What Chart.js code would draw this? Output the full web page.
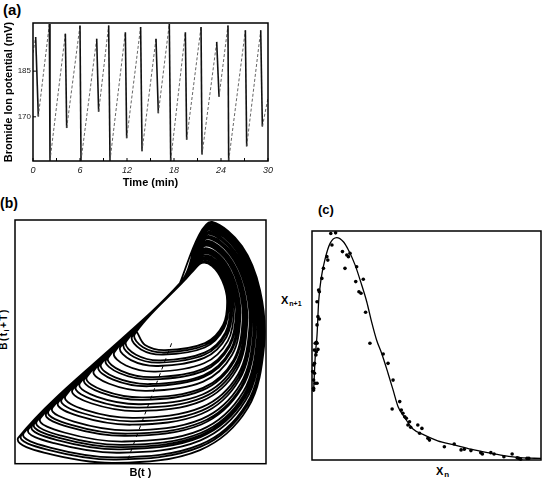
<!DOCTYPE html>
<html lang="en">
<head>
<meta charset="UTF-8">
<title>Bromide oscillations, attractor and return map</title>
<script src="https://cdn.jsdelivr.net/npm/chart.js"></script>
<style>
  body { margin: 0; width: 545px; height: 484px; background: #fff; position: relative; overflow: hidden;
         font-family: 'Liberation Sans', Arial, sans-serif; color: #000; }
  canvas { position: absolute; }
  .lbl { position: absolute; font-weight: bold; line-height: 1; white-space: nowrap; }
  .sub { position: relative; top: 2px; margin-left: 1px; }
</style>
</head>
<body>
<div class="lbl" style="left:3px;top:2px;font-size:15px">(a)</div>
<div class="lbl" style="left:0px;top:196px;font-size:14px">(b)</div>
<div class="lbl" style="left:318px;top:203px;font-size:13px">(c)</div>
<div class="lbl" style="left:-26px;top:324px;width:60px;height:10px;font-size:10px;text-align:center;letter-spacing:1.5px;transform:rotate(-90deg)">B(t<span class="sub" style="font-size:7px;margin-left:0">i</span>+T)</div>
<div class="lbl" style="left:281px;top:295px;font-size:11px">X<span class="sub" style="font-size:7px">n+1</span></div>
<div class="lbl" style="left:436px;top:466px;font-size:11px">X<span class="sub" style="font-size:8px">n</span></div>

<canvas id="chartA" width="280" height="200" style="left:0;top:0"></canvas>
<canvas id="chartB" width="280" height="289" style="left:0;top:195px"></canvas>
<canvas id="chartC" width="270" height="289" style="left:275px;top:195px"></canvas>

<script>
// (a) bromide ion potential vs time: peaks and troughs
const times = [0, 0.34, 0.68, 2.09, 2.17, 4.13, 4.30, 6.0, 6.13, 8.13, 8.38, 9.66, 9.83, 11.79, 11.96,
               13.74, 13.92, 15.70, 16.0, 17.40, 17.58, 19.45, 19.62, 21.45, 21.58, 23.45, 23.75,
               24.89, 24.98, 27.11, 27.28, 29.07, 29.28, 30];
const potential = [191, 196.2, 170.1, 200.5, 155.6, 197.3, 166.3, 200.0, 155.6, 195.6, 171.7, 200.0, 155.6,
                   197.8, 163.0, 199.5, 158.7, 195.6, 171.2, 200.5, 155.6, 197.8, 162.5, 199.5, 157.6,
                   194.6, 176.6, 200.0, 155.6, 198.4, 160.3, 198.4, 166.8, 176.1];
const timeTicks = [0, 6, 12, 18, 24, 30];
const timeMinorTicks = [0, 3, 6, 9, 12, 15, 18, 21, 24, 27, 30];
const potentialTicks = [170, 185];

// (b) delay-embedded attractor: one row per loop
// (diagonal start, bottom arc, right side, top, shoulder, back on the diagonal)
const loopX = [
  [48.6, 51.8, 59.8, 75.7, 82.9, 84.5, 82.5, 78.5, 74.5, 70.9, 67.7],
  [47.7, 51.0, 59.4, 75.7, 83.1, 84.8, 82.8, 78.7, 74.6, 71.0, 67.7],
  [46.7, 50.2, 59.0, 75.6, 83.3, 85.1, 83.1, 79.0, 74.7, 71.0, 67.6],
  [44.3, 48.2, 58.0, 75.5, 83.8, 85.8, 83.9, 79.6, 74.9, 71.1, 67.5],
  [43.4, 47.4, 57.6, 75.5, 84.0, 86.1, 84.2, 79.8, 74.9, 71.2, 67.5],
  [42.0, 46.2, 57.0, 75.4, 84.3, 86.6, 84.6, 80.2, 75.1, 71.2, 67.4],
  [39.6, 44.2, 56.0, 75.3, 84.8, 87.3, 85.4, 80.8, 75.3, 71.4, 67.3],
  [37.2, 42.3, 55.0, 75.2, 85.3, 88.1, 86.1, 81.4, 75.5, 71.5, 67.2],
  [36.3, 41.5, 54.6, 75.2, 85.5, 88.4, 86.4, 81.6, 75.5, 71.5, 67.2],
  [34.4, 39.9, 53.8, 75.1, 85.9, 88.9, 87.0, 82.1, 75.7, 71.6, 67.1],
  [33.4, 39.1, 53.4, 75.1, 86.1, 89.2, 87.3, 82.3, 75.8, 71.7, 67.1],
  [31.5, 37.5, 52.6, 75.0, 86.5, 89.8, 87.9, 82.8, 75.9, 71.8, 67.0],
  [28.7, 35.1, 51.4, 74.9, 87.1, 90.7, 88.8, 83.5, 76.2, 71.9, 66.9],
  [27.7, 34.3, 51.0, 74.8, 87.3, 91.0, 89.1, 83.7, 76.3, 72.0, 66.8],
  [25.9, 32.7, 50.2, 74.7, 87.7, 91.6, 89.8, 84.2, 76.4, 72.1, 66.7],
  [24.4, 31.5, 49.6, 74.7, 88.0, 92.1, 90.2, 84.6, 76.5, 72.1, 66.7],
  [23.0, 30.3, 49.0, 74.6, 88.3, 92.5, 90.7, 84.9, 76.7, 72.2, 66.6],
  [20.2, 27.9, 47.8, 74.5, 88.8, 93.4, 91.6, 85.6, 76.9, 72.3, 66.5],
  [18.7, 26.7, 47.2, 74.4, 89.1, 93.8, 92.0, 86.0, 77.0, 72.4, 66.4],
  [17.3, 25.5, 46.6, 74.4, 89.4, 94.3, 92.5, 86.4, 77.1, 72.5, 66.4],
  [15.0, 23.5, 45.6, 74.3, 89.9, 95.0, 93.2, 87.0, 77.3, 72.6, 66.3],
  [13.5, 22.4, 45.0, 74.2, 90.2, 95.5, 93.7, 87.3, 77.5, 72.7, 66.2],
  [12.6, 21.6, 44.6, 74.2, 90.4, 95.8, 94.0, 87.5, 77.5, 72.7, 66.2],
  [10.2, 19.6, 43.6, 74.1, 90.9, 96.5, 94.7, 88.1, 77.7, 72.8, 66.1],
  [8.8, 18.4, 43.0, 74.0, 91.2, 96.9, 95.2, 88.5, 77.9, 72.9, 66.0],
  [7.8, 17.6, 42.6, 74.0, 91.4, 97.2, 95.5, 88.7, 77.9, 72.9, 66.0],
  [6.9, 16.8, 42.2, 73.9, 91.6, 97.5, 95.8, 89.0, 78.0, 73.0, 65.9],
  [5.5, 15.6, 41.6, 73.9, 91.9, 98.0, 96.2, 89.3, 78.1, 73.1, 65.9],
  [3.6, 14.0, 40.8, 73.8, 92.3, 98.6, 96.9, 89.8, 78.3, 73.2, 65.8],
  [2.6, 13.2, 40.4, 73.8, 92.5, 98.9, 97.2, 90.0, 78.4, 73.2, 65.8],
  [1.2, 12.0, 39.8, 73.7, 92.8, 99.3, 97.6, 90.4, 78.5, 73.3, 65.7]
];
const loopY = [
  [54.0, 48.7, 46.6, 49.5, 56.9, 67.1, 75.3, 81.1, 82.4, 79.0, 75.4],
  [53.1, 47.8, 45.7, 48.6, 56.2, 66.7, 75.2, 81.3, 82.7, 79.3, 75.4],
  [52.3, 46.9, 44.8, 47.7, 55.5, 66.4, 75.1, 81.4, 83.1, 79.6, 75.3],
  [50.1, 44.7, 42.4, 45.6, 53.8, 65.4, 74.9, 81.8, 83.9, 80.3, 75.3],
  [49.2, 43.8, 41.5, 44.7, 53.2, 65.1, 74.9, 82.0, 84.3, 80.6, 75.3],
  [47.9, 42.5, 40.1, 43.4, 52.1, 64.5, 74.7, 82.3, 84.8, 81.1, 75.2],
  [45.7, 40.3, 37.8, 41.2, 50.4, 63.6, 74.5, 82.7, 85.6, 81.8, 75.2],
  [43.6, 38.1, 35.5, 39.0, 48.7, 62.7, 74.3, 83.1, 86.4, 82.6, 75.1],
  [42.7, 37.2, 34.6, 38.1, 48.1, 62.3, 74.3, 83.2, 86.8, 82.8, 75.1],
  [41.0, 35.4, 32.7, 36.3, 46.7, 61.6, 74.1, 83.6, 87.4, 83.4, 75.0],
  [40.1, 34.5, 31.8, 35.5, 46.0, 61.2, 74.0, 83.7, 87.8, 83.7, 75.0],
  [38.3, 32.8, 29.9, 33.7, 44.7, 60.5, 73.9, 84.1, 88.5, 84.3, 74.9],
  [35.7, 30.1, 27.2, 31.1, 42.6, 59.4, 73.6, 84.5, 89.5, 85.2, 74.9],
  [34.9, 29.2, 26.2, 30.2, 41.9, 59.0, 73.5, 84.7, 89.8, 85.5, 74.8],
  [33.1, 27.4, 24.4, 28.4, 40.6, 58.3, 73.4, 85.0, 90.5, 86.1, 74.8],
  [31.8, 26.1, 23.0, 27.1, 39.6, 57.7, 73.3, 85.3, 91.0, 86.5, 74.7],
  [30.5, 24.8, 21.6, 25.8, 38.5, 57.2, 73.1, 85.5, 91.5, 87.0, 74.7],
  [27.9, 22.1, 18.8, 23.2, 36.5, 56.1, 72.9, 86.0, 92.5, 87.9, 74.6],
  [26.6, 20.8, 17.4, 21.8, 35.5, 55.5, 72.8, 86.3, 93.0, 88.3, 74.6],
  [25.3, 19.5, 16.0, 20.5, 34.5, 55.0, 72.7, 86.5, 93.5, 88.8, 74.5],
  [23.1, 17.3, 13.7, 18.3, 32.8, 54.0, 72.5, 86.9, 94.3, 89.5, 74.5],
  [21.8, 15.9, 12.3, 17.0, 31.7, 53.5, 72.3, 87.2, 94.8, 90.0, 74.4],
  [20.9, 15.0, 11.4, 16.1, 31.1, 53.1, 72.3, 87.3, 95.2, 90.2, 74.4],
  [18.8, 12.8, 9.1, 13.9, 29.4, 52.2, 72.1, 87.7, 96.0, 91.0, 74.3],
  [17.5, 11.5, 7.7, 12.6, 28.3, 51.6, 71.9, 88.0, 96.5, 91.4, 74.3],
  [16.6, 10.6, 6.8, 11.7, 27.7, 51.3, 71.9, 88.2, 96.9, 91.7, 74.3],
  [15.7, 9.7, 5.9, 10.9, 27.0, 50.9, 71.8, 88.3, 97.2, 92.0, 74.3],
  [14.4, 8.4, 4.5, 9.6, 26.0, 50.4, 71.7, 88.6, 97.7, 92.5, 74.2],
  [12.7, 6.6, 2.6, 7.8, 24.6, 49.6, 71.5, 88.9, 98.4, 93.1, 74.2],
  [11.8, 5.7, 1.7, 6.9, 23.9, 49.3, 71.4, 89.1, 98.7, 93.4, 74.1],
  [10.5, 4.4, 0.3, 5.6, 22.9, 48.7, 71.3, 89.3, 99.2, 93.8, 74.1]
];
// dashed section line across the loops
const sectionX = [62.4, 44.5];
const sectionY = [49.4, 0.5];

// (c) return map X(n+1) vs X(n): measured points and fitted curve
const mapPoints = [
  [8.2, 98.9], [10.3, 99.2], [8.7, 93.9], [6.5, 88.8], [6.9, 87.3], [5.0, 83.7], [13.3, 91.0], [15.2, 89.5],
  [16.6, 90.3], [15.9, 88.8], [14.4, 83.7], [19.5, 84.4], [4.3, 79.3], [19.1, 77.9], [22.4, 78.9], [2.9, 74.2],
  [3.2, 73.5], [20.5, 73.5], [21.4, 72.8], [2.2, 69.1], [23.4, 64.5], [2.6, 62.6], [3.2, 61.6], [2.2, 59.0],
  [1.9, 51.4], [25.3, 51.0], [2.2, 51.0], [2.6, 48.3], [1.7, 45.9], [1.1, 42.2], [0.7, 41.5], [0.3, 38.6],
  [1.1, 37.9], [0.7, 34.9], [2.2, 33.5], [0.7, 30.6], [1.4, 51.0], [1.0, 48.0], [1.9, 47.3], [1.4, 33.5],
  [0.7, 31.3], [31.1, 46.3], [33.2, 42.2], [35.4, 34.9], [38.3, 25.5], [35.0, 22.3], [39.0, 21.8], [39.7, 20.4],
  [41.2, 18.2], [42.6, 16.7], [41.9, 15.3], [43.1, 14.3], [46.2, 15.3], [48.0, 13.8], [47.0, 11.7], [50.6, 9.5],
  [51.3, 8.7], [57.8, 5.8], [62.1, 7.0], [65.1, 4.4], [66.5, 4.7], [69.4, 4.1], [73.7, 3.2], [74.4, 2.6],
  [78.1, 3.2], [79.5, 2.6], [83.8, 1.4], [87.4, 2.6], [89.6, 1.0], [91.1, 0.3], [93.9, 0.7], [40.5, 18.9],
  [90.3, 0.7], [94.7, 0.7]
];
const fitX = [0.7, 1.4, 2.2, 2.9, 4.0, 5.8, 7.9, 10.8, 13.7, 15.9, 18.8, 21.7, 23.9, 26.0, 28.2, 30.4,
              33.2, 35.4, 37.6, 40.5, 44.1, 49.1, 54.9, 62.1, 69.4, 76.6, 83.8, 91.1, 100];
const fitY = [29.8, 45.0, 54.6, 69.1, 79.3, 88.1, 94.6, 97.1, 95.3, 91.7, 85.2, 76.4, 69.1, 60.4, 52.4, 46.6,
              37.9, 30.6, 23.3, 18.5, 13.5, 10.9, 8.4, 6.6, 4.7, 3.2, 1.9, 1.0, 0.7];

Chart.defaults.font.family = "'Liberation Sans', Arial, sans-serif";
Chart.defaults.color = '#000';

// box round each plot area
const frame = {
  id: 'frame',
  afterDatasetsDraw(chart) {
    const a = chart.chartArea, ctx = chart.ctx;
    ctx.save();
    ctx.strokeStyle = '#000';
    ctx.lineWidth = 1.5;
    ctx.strokeRect(a.left, a.top, a.right - a.left, a.bottom - a.top);
    ctx.restore();
  }
};
// short tick marks pointing into the plot
const innerTicks = {
  id: 'innerTicks',
  afterDatasetsDraw(chart, args, opts) {
    if (!opts.x) return;
    const ctx = chart.ctx, a = chart.chartArea;
    const x = chart.scales.x, y = chart.scales.y;
    ctx.save();
    ctx.strokeStyle = '#000';
    ctx.lineWidth = 1;
    ctx.beginPath();
    opts.x.forEach(v => {
      const px = x.getPixelForValue(v);
      ctx.moveTo(px, a.bottom);
      ctx.lineTo(px, a.bottom - 3);
    });
    opts.y.forEach(v => {
      const py = y.getPixelForValue(v);
      ctx.moveTo(a.left, py);
      ctx.lineTo(a.left + 3, py);
    });
    ctx.stroke();
    ctx.restore();
  }
};
Chart.register(frame, innerTicks);

const hidden = { display: false };

// (a)
new Chart(document.getElementById('chartA'), {
  type: 'scatter',
  data: {
    datasets: [{
      data: times.map((t, i) => ({ x: t, y: potential[i] })),
      showLine: true,
      pointRadius: 0,
      borderColor: '#222',
      segment: {
        borderWidth: c => c.p1.parsed.y < c.p0.parsed.y ? 1.6 : 0.9,
        borderDash: c => c.p1.parsed.y < c.p0.parsed.y ? [] : [3, 2],
        borderColor: c => c.p1.parsed.y < c.p0.parsed.y ? '#111' : '#555'
      }
    }]
  },
  options: {
    responsive: false,
    animation: false,
    layout: { padding: { left: 0, right: 12, top: 23, bottom: 0 } },
    plugins: {
      legend: hidden, tooltip: { enabled: false },
      innerTicks: { x: timeMinorTicks, y: potentialTicks }
    },
    scales: {
      x: {
        type: 'linear', min: 0, max: 30,
        afterFit: s => { s.height = 39; },
        afterBuildTicks: s => { s.ticks = timeTicks.map(v => ({ value: v })); },
        grid: { display: false, drawTicks: false },
        border: hidden,
        ticks: { font: { size: 9, style: 'italic' }, color: '#222', padding: 4 },
        title: { display: true, text: 'Time (min)', font: { size: 11, weight: 'bold' }, padding: { top: 0, bottom: 10 } }
      },
      y: {
        min: 155.5, max: 200.8,
        afterFit: s => { s.width = 33; },
        afterBuildTicks: s => { s.ticks = potentialTicks.map(v => ({ value: v })); },
        grid: { display: false, drawTicks: false },
        border: hidden,
        ticks: { font: { size: 8 }, color: '#222', padding: 2 },
        title: { display: true, text: 'Bromide Ion potential (mV)', font: { size: 11, weight: 'bold' }, padding: { top: 2, bottom: 0 } }
      }
    }
  }
});

// (b)
const orbit = [];
loopX.forEach((row, k) => row.forEach((x, i) => orbit.push({ x: x, y: loopY[k][i] })));

new Chart(document.getElementById('chartB'), {
  type: 'scatter',
  data: {
    datasets: [{
      data: orbit,
      showLine: true,
      pointRadius: 0,
      borderColor: '#000',
      borderWidth: 1.8,
      tension: 0.35
    }, {
      data: sectionX.map((x, i) => ({ x: x, y: sectionY[i] })),
      showLine: true,
      pointRadius: 0,
      borderColor: '#000',
      borderWidth: 1,
      borderDash: [4, 4]
    }]
  },
  options: {
    responsive: false,
    animation: false,
    layout: { padding: { left: 0, right: 14, top: 25, bottom: 0 } },
    plugins: { legend: hidden, tooltip: { enabled: false } },
    scales: {
      x: {
        type: 'linear', min: 0, max: 100,
        afterFit: s => { s.height = 20.3; },
        grid: hidden, border: hidden, ticks: hidden,
        title: { display: true, text: 'B(t )', font: { size: 11, weight: 'bold' }, padding: { top: 0, bottom: 4.4 } }
      },
      y: {
        min: 0, max: 100,
        afterFit: s => { s.width = 15; },
        grid: hidden, border: hidden, ticks: hidden
      }
    }
  }
});

// (c)
new Chart(document.getElementById('chartC'), {
  type: 'scatter',
  data: {
    datasets: [{
      data: mapPoints.map(p => ({ x: p[0], y: p[1] })),
      pointRadius: 1.8,
      pointBackgroundColor: '#000',
      pointBorderWidth: 0,
      clip: 3
    }, {
      data: fitX.map((x, i) => ({ x: x, y: fitY[i] })),
      showLine: true,
      pointRadius: 0,
      borderColor: '#000',
      borderWidth: 1.3,
      cubicInterpolationMode: 'monotone'
    }]
  },
  options: {
    responsive: false,
    animation: false,
    layout: { padding: { left: 0, right: 3, top: 36, bottom: 0 } },
    plugins: { legend: hidden, tooltip: { enabled: false } },
    scales: {
      x: {
        type: 'linear', min: 0, max: 100,
        afterFit: s => { s.height = 24; },
        grid: hidden, border: hidden, ticks: hidden
      },
      y: {
        min: 0, max: 100,
        afterFit: s => { s.width = 37; },
        grid: hidden, border: hidden, ticks: hidden
      }
    }
  }
});
</script>
</body>
</html>
